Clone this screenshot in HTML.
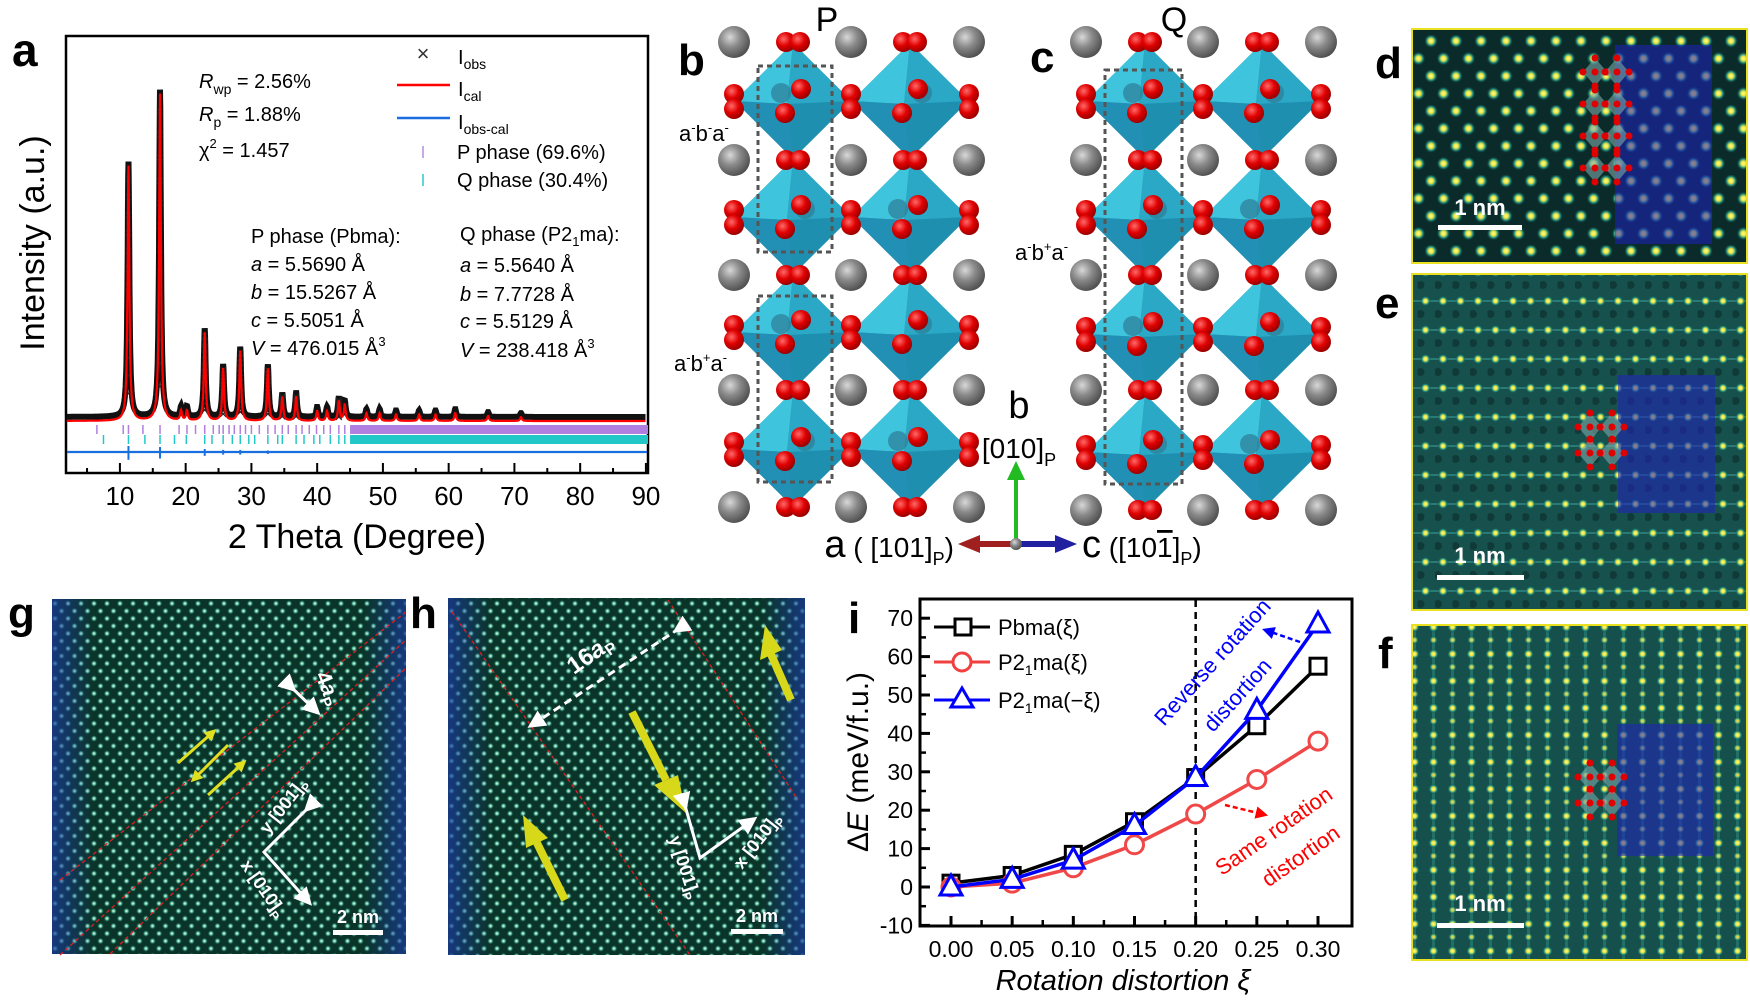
<!DOCTYPE html>
<html><head><meta charset="utf-8">
<style>
html,body{margin:0;padding:0;background:#fff;}
svg{display:block;font-family:"Liberation Sans",sans-serif;}
</style></head>
<body>
<svg id="fig" width="1750" height="1000" viewBox="0 0 1750 1000" xmlns="http://www.w3.org/2000/svg">
<defs>
  <radialGradient id="gGray" cx="0.38" cy="0.35" r="0.7">
    <stop offset="0" stop-color="#d8d8d8"/><stop offset="0.45" stop-color="#8a8a8a"/><stop offset="1" stop-color="#4a4a4a"/>
  </radialGradient>
  <radialGradient id="gRed" cx="0.38" cy="0.35" r="0.7">
    <stop offset="0" stop-color="#ff6a6a"/><stop offset="0.5" stop-color="#e00000"/><stop offset="1" stop-color="#900000"/>
  </radialGradient>
  <radialGradient id="gDot" cx="0.5" cy="0.5" r="0.5">
    <stop offset="0" stop-color="#ffff90"/><stop offset="0.35" stop-color="#e8e040"/><stop offset="0.6" stop-color="#2a9a88"/><stop offset="1" stop-color="#0c3a36" stop-opacity="0"/>
  </radialGradient>
  <radialGradient id="gDot2" cx="0.5" cy="0.5" r="0.5">
    <stop offset="0" stop-color="#e8fff0"/><stop offset="0.3" stop-color="#8ad8b8"/><stop offset="0.65" stop-color="#1a6a5a"/><stop offset="1" stop-color="#0a3028" stop-opacity="0"/>
  </radialGradient>
  <pattern id="patD" width="25" height="35" patternUnits="userSpaceOnUse">
    <rect width="25" height="35" fill="#0b2b2a"/>
    <circle cx="6" cy="6" r="7" fill="url(#gDot)"/><circle cx="18.5" cy="23.5" r="7" fill="url(#gDot)"/>
  </pattern>
  <pattern id="patE" width="17.5" height="29" patternUnits="userSpaceOnUse">
    <rect width="17.5" height="29" fill="#17514e"/>
    <rect y="10" width="17.5" height="2" fill="#2a7a78"/>
    <circle cx="8" cy="11" r="5.5" fill="url(#gDot)"/>
    <circle cx="3" cy="24" r="4" fill="#0b2b28" opacity="0.6"/>
  </pattern>
  <pattern id="patF" width="19" height="27" patternUnits="userSpaceOnUse">
    <rect width="19" height="27" fill="#15504c"/>
    <rect x="7" width="3" height="27" fill="#227068"/>
    <circle cx="8.5" cy="6" r="5.5" fill="url(#gDot)"/>
    <circle cx="8.5" cy="19" r="4.5" fill="url(#gDot)" opacity="0.8"/>
  </pattern>
  <pattern id="patG" width="13" height="15" patternUnits="userSpaceOnUse">
    <rect width="13" height="15" fill="#0b3428"/>
    <circle cx="3" cy="3.5" r="3.6" fill="url(#gDot2)"/><circle cx="9.5" cy="11" r="3.6" fill="url(#gDot2)"/>
  </pattern>
  <linearGradient id="edgeBlue" x1="0" x2="1">
    <stop offset="0" stop-color="#1a3a9a" stop-opacity="0.75"/><stop offset="0.12" stop-color="#1a3a9a" stop-opacity="0"/>
    <stop offset="0.88" stop-color="#1a3a9a" stop-opacity="0"/><stop offset="1" stop-color="#1a3a9a" stop-opacity="0.75"/>
  </linearGradient>
  <marker id="arrW" markerWidth="6" markerHeight="6" refX="3" refY="3" orient="auto"><path d="M0,0 L6,3 L0,6 z" fill="#fff"/></marker>
  <marker id="arrY" markerWidth="4" markerHeight="4" refX="2" refY="2" orient="auto"><path d="M0,0 L4,2 L0,4 z" fill="#e0e020"/></marker>
  <marker id="arrB" markerWidth="5" markerHeight="5" refX="2.5" refY="2.5" orient="auto"><path d="M0,0 L5,2.5 L0,5 z" fill="#0000ff"/></marker>
  <marker id="arrR" markerWidth="5" markerHeight="5" refX="2.5" refY="2.5" orient="auto"><path d="M0,0 L5,2.5 L0,5 z" fill="#ff0000"/></marker>
</defs>

<!-- ================= PANEL A ================= -->
<g id="panelA">
  <text x="12" y="66" font-size="46" font-weight="bold">a</text>
  <rect x="66" y="36" width="582" height="437" fill="none" stroke="#000" stroke-width="2.5"/>
  <g id="aData"></g>
  <g id="aTicks"></g>
  <text x="357" y="548" font-size="34" text-anchor="middle">2 Theta (Degree)</text>
  <text transform="translate(44,243) rotate(-90)" font-size="34" text-anchor="middle">Intensity (a.u.)</text>
  <g font-size="20">
    <text x="199" y="88"><tspan font-style="italic">R</tspan><tspan font-size="14" dy="6">wp</tspan><tspan dy="-6"> = 2.56%</tspan></text>
    <text x="199" y="121"><tspan font-style="italic">R</tspan><tspan font-size="14" dy="6">p</tspan><tspan dy="-6"> = 1.88%</tspan></text>
    <text x="199" y="157">χ<tspan font-size="13" dy="-9">2</tspan><tspan dy="9"> = 1.457</tspan></text>
  </g>
  <g font-size="20">
    <text x="423" y="61" font-size="22" text-anchor="middle" fill="#333">×</text>
    <text x="458" y="64">I<tspan font-size="14" dy="5">obs</tspan></text>
    <line x1="397" y1="85" x2="450" y2="85" stroke="#f00" stroke-width="2.5"/>
    <text x="458" y="96">I<tspan font-size="14" dy="5">cal</tspan></text>
    <line x1="397" y1="118" x2="450" y2="118" stroke="#1a6fe0" stroke-width="2.5"/>
    <text x="458" y="129">I<tspan font-size="14" dy="5">obs-cal</tspan></text>
    <line x1="423" y1="146" x2="423" y2="158" stroke="#b58be0" stroke-width="1.5"/>
    <text x="457" y="159">P phase (69.6%)</text>
    <line x1="423" y1="174" x2="423" y2="186" stroke="#2cc8c8" stroke-width="1.5"/>
    <text x="457" y="187">Q phase (30.4%)</text>
  </g>
  <g font-size="20">
    <text x="251" y="243">P phase (Pbma):</text>
    <text x="251" y="271"><tspan font-style="italic">a</tspan> = 5.5690 Å</text>
    <text x="251" y="299"><tspan font-style="italic">b</tspan> = 15.5267 Å</text>
    <text x="251" y="327"><tspan font-style="italic">c</tspan> = 5.5051 Å</text>
    <text x="251" y="355"><tspan font-style="italic">V</tspan> = 476.015 Å<tspan font-size="13" dy="-9">3</tspan></text>
    <text x="460" y="241">Q phase (P2<tspan font-size="13" dy="5">1</tspan><tspan dy="-5">ma):</tspan></text>
    <text x="460" y="272"><tspan font-style="italic">a</tspan> = 5.5640 Å</text>
    <text x="460" y="301"><tspan font-style="italic">b</tspan> = 7.7728 Å</text>
    <text x="460" y="328"><tspan font-style="italic">c</tspan> = 5.5129 Å</text>
    <text x="460" y="357"><tspan font-style="italic">V</tspan> = 238.418 Å<tspan font-size="13" dy="-9">3</tspan></text>
  </g>
</g>

<!-- ================= PANELS B & C ================= -->
<g id="structB"></g>
<g id="structC"></g>
<g>
  <text x="678" y="75" font-size="44" font-weight="bold">b</text>
  <text x="1030" y="72" font-size="44" font-weight="bold">c</text>
  <text x="827" y="31" font-size="34" text-anchor="middle">P</text>
  <text x="1174" y="31" font-size="34" text-anchor="middle">Q</text>
  <g font-size="22">
    <text x="679" y="141">a<tspan font-size="13" dy="-9">-</tspan><tspan dy="9">b</tspan><tspan font-size="13" dy="-9">-</tspan><tspan dy="9">a</tspan><tspan font-size="13" dy="-9">-</tspan></text>
    <text x="674" y="371">a<tspan font-size="13" dy="-9">-</tspan><tspan dy="9">b</tspan><tspan font-size="13" dy="-9">+</tspan><tspan dy="9">a</tspan><tspan font-size="13" dy="-9">-</tspan></text>
    <text x="1015" y="260">a<tspan font-size="13" dy="-9">-</tspan><tspan dy="9">b</tspan><tspan font-size="13" dy="-9">+</tspan><tspan dy="9">a</tspan><tspan font-size="13" dy="-9">-</tspan></text>
  </g>
  <g>
    <line x1="1016" y1="544" x2="1016" y2="478" stroke="#22bb22" stroke-width="4"/>
    <polygon points="1007,480 1025,480 1016,461" fill="#22bb22"/>
    <line x1="1016" y1="544" x2="978" y2="544" stroke="#a02020" stroke-width="6"/>
    <polygon points="980,535 980,553 958,544" fill="#a02020"/>
    <line x1="1016" y1="544" x2="1056" y2="544" stroke="#2020a0" stroke-width="6"/>
    <polygon points="1055,535 1055,553 1077,544" fill="#2020a0"/>
    <circle cx="1016" cy="544" r="6" fill="url(#gGray)"/>
    <text x="1019" y="418" font-size="38" text-anchor="middle">b</text>
    <text x="1019" y="458" font-size="28" text-anchor="middle">[010]<tspan font-size="18" dy="8">P</tspan></text>
    <text x="954" y="557" font-size="28" text-anchor="end"><tspan font-size="38">a</tspan> ( [101]<tspan font-size="18" dy="8">P</tspan><tspan dy="-8">)</tspan></text>
    <text x="1082" y="557" font-size="28"><tspan font-size="38">c</tspan> ([10<tspan text-decoration="overline">1</tspan>]<tspan font-size="18" dy="8">P</tspan><tspan dy="-8">)</tspan></text>
  </g>
</g>

<!-- ================= PANELS D E F ================= -->
<g>
  <text x="1375" y="78" font-size="44" font-weight="bold">d</text>
  <text x="1375" y="318" font-size="44" font-weight="bold">e</text>
  <text x="1378" y="668" font-size="44" font-weight="bold">f</text>
  <g>
    <rect x="1412" y="29" width="335" height="234" fill="url(#patD)" stroke="#e8e020" stroke-width="2"/>
    <rect x="1615" y="45" width="97" height="199" fill="#2020c0" opacity="0.55"/>
  </g>
  <g>
    <rect x="1412" y="274" width="335" height="336" fill="url(#patE)" stroke="#e8e020" stroke-width="2"/>
    <rect x="1618" y="375" width="97" height="138" fill="#2020c0" opacity="0.55"/>
  </g>
  <g>
    <rect x="1412" y="625" width="335" height="335" fill="url(#patF)" stroke="#e8e020" stroke-width="2"/>
    <rect x="1617" y="724" width="96" height="132" fill="#2020c0" opacity="0.55"/>
  </g>
  <g id="miniOct"></g>
  <g fill="#fff" font-size="22" font-weight="bold">
    <rect x="1438" y="225" width="84" height="5"/><text x="1480" y="215" text-anchor="middle">1 nm</text>
    <rect x="1437" y="575" width="87" height="5"/><text x="1480" y="563" text-anchor="middle">1 nm</text>
    <rect x="1437" y="923" width="87" height="5"/><text x="1480" y="911" text-anchor="middle">1 nm</text>
  </g>
</g>

<!-- ================= PANELS G H ================= -->
<g>
  <text x="8" y="628" font-size="44" font-weight="bold">g</text>
  <text x="410" y="628" font-size="44" font-weight="bold">h</text>
  <g>
    <rect x="52" y="599" width="354" height="355" fill="url(#patG)"/>
    <rect x="52" y="599" width="354" height="355" fill="url(#edgeBlue)"/>
    <g stroke="#e02020" stroke-width="1.3" stroke-dasharray="4,3" fill="none">
      <line x1="60" y1="880" x2="406" y2="612"/>
      <line x1="60" y1="955" x2="406" y2="640"/>
      <line x1="110" y1="954" x2="406" y2="668"/>
    </g>
    <g stroke="#e0e020" stroke-width="3" marker-end="url(#arrY)">
      <line x1="178" y1="763" x2="212" y2="733"/>
      <line x1="228" y1="745" x2="195" y2="778"/>
      <line x1="208" y1="795" x2="242" y2="764"/>
    </g>
    <g stroke="#fff" stroke-width="3" fill="none">
      <line x1="290" y1="686" x2="314" y2="709" marker-start="url(#arrW)" marker-end="url(#arrW)"/>
      <polyline points="310,806 264,852 306,899" marker-start="url(#arrW)" marker-end="url(#arrW)"/>
    </g>
    <text transform="translate(315,675) rotate(68)" font-size="22" font-weight="bold" fill="#fff">4<tspan font-style="italic">a</tspan><tspan font-size="15" dy="5">P</tspan></text>
    <text transform="translate(268,835) rotate(-52)" font-size="18" font-weight="bold" fill="#fff">y [001]<tspan font-size="12" dy="5">P</tspan></text>
    <text transform="translate(240,865) rotate(55)" font-size="18" font-weight="bold" fill="#fff">x [010]<tspan font-size="12" dy="5">P</tspan></text>
    <rect x="333" y="930" width="50" height="5" fill="#fff"/>
    <text x="358" y="923" font-size="18" font-weight="bold" fill="#fff" text-anchor="middle">2 nm</text>
  </g>
  <g>
    <rect x="448" y="598" width="357" height="357" fill="url(#patG)"/>
    <rect x="448" y="598" width="357" height="357" fill="url(#edgeBlue)"/>
    <g stroke="#e02020" stroke-width="1.3" stroke-dasharray="4,3" fill="none">
      <line x1="452" y1="612" x2="690" y2="955"/>
      <line x1="668" y1="600" x2="798" y2="800"/>
    </g>
    <line x1="680" y1="628" x2="535" y2="723" stroke="#fff" stroke-width="3" stroke-dasharray="8,5" marker-start="url(#arrW)" marker-end="url(#arrW)"/>
    <text transform="translate(574,675) rotate(-35)" font-size="24" font-weight="bold" fill="#fff">16<tspan font-style="italic">a</tspan><tspan font-size="16" dy="5">P</tspan></text>
    <g stroke="#d8d81a" stroke-width="8">
      <line x1="791" y1="700" x2="770" y2="652"/><polygon points="760,660 782,650 765,625" fill="#d8d81a" stroke="none"/>
      <line x1="632" y1="712" x2="666" y2="780"/><polygon points="654,785 678,775 686,813" fill="#d8d81a" stroke="none"/>
      <line x1="565" y1="900" x2="537" y2="843"/><polygon points="526,848 548,838 523,815" fill="#d8d81a" stroke="none"/>
    </g>
    <polyline points="684,802 700,858 750,822" stroke="#fff" stroke-width="3" fill="none" marker-start="url(#arrW)" marker-end="url(#arrW)"/>
    <text transform="translate(669,838) rotate(72)" font-size="18" font-weight="bold" fill="#fff">y [001]<tspan font-size="12" dy="5">P</tspan></text>
    <text transform="translate(742,870) rotate(-52)" font-size="18" font-weight="bold" fill="#fff">x [010]<tspan font-size="12" dy="5">P</tspan></text>
    <rect x="731" y="929" width="52" height="5" fill="#fff"/>
    <text x="757" y="922" font-size="18" font-weight="bold" fill="#fff" text-anchor="middle">2 nm</text>
  </g>
</g>

<!-- ================= PANEL I ================= -->
<g id="panelI">
  <text x="848" y="633" font-size="44" font-weight="bold">i</text>
  <rect x="920" y="599" width="432" height="327" fill="none" stroke="#000" stroke-width="3"/>
  <g id="iAxes"></g>
  <g id="iData"></g>
  <text transform="translate(868,762) rotate(-90)" font-size="30" text-anchor="middle">Δ<tspan font-style="italic">E</tspan> (meV/f.u.)</text>
  <text x="1123" y="990" font-size="29" font-style="italic" text-anchor="middle">Rotation distortion ξ</text>
  <g font-size="22">
    <g>
      <line x1="934" y1="627" x2="990" y2="627" stroke="#000" stroke-width="3"/>
      <rect x="955" y="619" width="16" height="16" fill="#fff" stroke="#000" stroke-width="3"/>
      <text x="998" y="635">Pbma(ξ)</text>
    </g>
    <g>
      <line x1="934" y1="662" x2="990" y2="662" stroke="#f04040" stroke-width="3"/>
      <circle cx="962" cy="662" r="9" fill="#fff" stroke="#f04040" stroke-width="3"/>
      <text x="998" y="670">P2<tspan font-size="14" dy="5">1</tspan><tspan dy="-5">ma(ξ)</tspan></text>
    </g>
    <g>
      <line x1="934" y1="700" x2="990" y2="700" stroke="#0000ff" stroke-width="3"/>
      <polygon points="962,688 973,707 951,707" fill="#fff" stroke="#0000ff" stroke-width="3"/>
      <text x="998" y="708">P2<tspan font-size="14" dy="5">1</tspan><tspan dy="-5">ma(−ξ)</tspan></text>
    </g>
  </g>
  <g font-size="22" fill="#0000ff">
    <text transform="translate(1218,667) rotate(-48)" text-anchor="middle">Reverse rotation</text>
    <text transform="translate(1243,700) rotate(-48)" text-anchor="middle">distortion</text>
    <line x1="1300" y1="642" x2="1268" y2="631" stroke="#0000ff" stroke-width="2.5" stroke-dasharray="5,3" marker-end="url(#arrB)"/>
  </g>
  <g font-size="22" fill="#ff0000">
    <text transform="translate(1278,837) rotate(-35)" text-anchor="middle">Same rotation</text>
    <text transform="translate(1305,862) rotate(-35)" text-anchor="middle">distortion</text>
    <line x1="1225" y1="805" x2="1262" y2="814" stroke="#ff0000" stroke-width="2.5" stroke-dasharray="5,3" marker-end="url(#arrR)"/>
  </g>
</g>

<script>
// ---------- Panel a data ----------
const peakTwoTheta = [11.3, 16.1, 19.3, 20.2, 22.9, 25.7, 28.3, 32.5, 34.7, 36.8, 40.0, 41.5, 43.3, 44.2, 47.5, 49.5, 52.0, 55.5, 58.0, 61.0, 66.0, 71.0];
const peakIntensity = [78, 100, 3, 3, 27, 16, 21.4, 16, 7.3, 7.3, 3, 3, 6.1, 4.9, 2.4, 2.4, 2, 2, 2, 2.4, 1.5, 1.2];
const pPhaseTicks = [6.5, 10.5, 11.3, 13.5, 16.1, 19, 20.2, 21.5, 22.9, 24.2, 25.1, 25.7, 26.6, 27.4, 28.3, 29.1, 30, 31.2, 32.5, 33.6, 34.7, 35.6, 36.8, 37.7, 38.8, 39.9, 41, 42, 43.3, 44.2];
const qPhaseTicks = [7.5, 11.3, 13.8, 16.1, 18.3, 20.1, 22.9, 24.0, 25.7, 27.1, 28.3, 29.6, 30.5, 32.5, 34.0, 34.7, 36.8, 38.0, 39.5, 40.4, 42.0, 43.3, 44.2];
const diffSpikes = [11.3, 16.1, 22.9, 25.7, 28.3, 32.5];
const diffSpikeAmp = [6, 5, 3, 2, 2, 1.5];
const xTickLabels = [10, 20, 30, 40, 50, 60, 70, 80, 90];

const NS = "http://www.w3.org/2000/svg";
function mk(tag, attrs, parent) {
  const el = document.createElementNS(NS, tag);
  for (const k in attrs) el.setAttribute(k, attrs[k]);
  parent.appendChild(el);
  return el;
}
const ax = d => 66 + (d - 1.8) * 6.575;
const ay = I => 420 - I * 3.27;
function profile(t) {
  let s = 0;
  for (let i = 0; i < peakTwoTheta.length; i++) {
    const g = 0.16, dx = t - peakTwoTheta[i];
    s += peakIntensity[i] * g * g / (dx * dx + g * g);
  }
  return s;
}
(function drawA() {
  const g = document.getElementById('aData');
  let pts = [];
  for (let t = 1.9; t <= 89.95; t += 0.04) pts.push(ax(t).toFixed(1) + ',' + ay(profile(t)).toFixed(1));
  const obs = mk('polyline', {points: pts.join(' '), fill: 'none', stroke: '#111', 'stroke-width': 6, transform: 'translate(0,-3)'}, g);
  
  
  for (let i = 0; i < peakTwoTheta.length; i++) {
    if (peakIntensity[i] < 5) continue;
    for (let f = 0.1; f <= 1.0001; f += 0.07) {
      const c = mk('text', {x: ax(peakTwoTheta[i]), y: ay(peakIntensity[i] * f) + 4, 'font-size': 15, 'text-anchor': 'middle', fill: '#222'}, g);
      c.textContent = '×';
      
      
    }
  }
  const cal = mk('polyline', {points: pts.join(' '), fill: 'none', stroke: '#f00', 'stroke-width': 2.2, transform: 'translate(0,1)'}, g);
  
  
  const pb = mk('rect', {x: ax(45), y: 425, width: 648 - ax(45), height: 9, fill: '#b07fe0'}, g);
  
  
  const qb = mk('rect', {x: ax(45), y: 435, width: 648 - ax(45), height: 9, fill: '#22c8c8'}, g);
  
  
  pPhaseTicks.forEach(t => {
    const l = mk('line', {x1: ax(t), x2: ax(t), y1: 425, y2: 434, stroke: '#b07fe0', 'stroke-width': 1.5}, g);
    
    
  });
  qPhaseTicks.forEach(t => {
    const l = mk('line', {x1: ax(t), x2: ax(t), y1: 435, y2: 444, stroke: '#22c8c8', 'stroke-width': 1.5}, g);
    
    
  });
  const dl = mk('line', {x1: 67, x2: 647, y1: 452, y2: 452, stroke: '#1a6fe0', 'stroke-width': 2.2}, g);
  
  
  diffSpikes.forEach((t, i) => {
    const l = mk('line', {x1: ax(t), x2: ax(t), y1: 452 - diffSpikeAmp[i], y2: 452 + diffSpikeAmp[i] * 1.3, stroke: '#1a6fe0', 'stroke-width': 2}, g);
    
    
  });
  const tg = document.getElementById('aTicks');
  for (let v = 5; v <= 90; v += 5) {
    const major = v % 10 === 0;
    const l = mk('line', {x1: ax(v), x2: ax(v), y1: 473, y2: major ? 463 : 468, stroke: '#000', 'stroke-width': 2}, tg);
    
    
  }
  xTickLabels.forEach(v => {
    const t = mk('text', {x: ax(v), y: 505, 'font-size': 26, 'text-anchor': 'middle'}, tg);
    t.textContent = v;
    
    
  });
})();

// ---------- Crystal structures ----------
function drawStruct(gid, grayX, grayY, octX, octY, box) {
  const g = document.getElementById(gid);
  const hw = (grayX[1] - grayX[0]) / 2;
  octY.forEach((cy, ri) => {
    const hh = 58;
    octX.forEach((cx, ci) => {
      const o = mk('g', {}, g);
      
      
      mk('polygon', {points: `${cx},${cy - hh} ${cx - hw},${cy} ${cx},${cy + hh} ${cx + hw},${cy}`, fill: '#1f8fb0'}, o);
      mk('polygon', {points: `${cx},${cy - hh} ${cx - hw},${cy} ${cx - 6},${cy + 3}`, fill: '#3ec4dc'}, o);
      mk('polygon', {points: `${cx},${cy - hh} ${cx + hw},${cy} ${cx - 6},${cy + 3}`, fill: '#2aa8c6'}, o);
      mk('polygon', {points: `${cx - hw},${cy} ${cx},${cy + hh} ${cx - 6},${cy + 3}`, fill: '#2290b4'}, o);
      const s = ((ri + ci) % 2 === 0) ? 1 : -1;
      mk('circle', {cx: cx - 12 * s, cy: cy - 8, r: 10, fill: '#2f7d95', opacity: 0.7}, o);
      mk('circle', {cx: cx + 8 * s, cy: cy - 12 * s, r: 10, fill: 'url(#gRed)'}, o);
      mk('circle', {cx: cx - 8 * s, cy: cy + 12 * s, r: 10, fill: 'url(#gRed)'}, o);
    });
    grayX.forEach(x => {
      const a = mk('circle', {cx: x, cy: cy - 7, r: 10, fill: 'url(#gRed)'}, g);
      
      
      const b = mk('circle', {cx: x, cy: cy + 8, r: 10, fill: 'url(#gRed)'}, g);
      
      
    });
  });
  grayY.forEach(y => {
    octX.forEach(x => {
      const a = mk('circle', {cx: x - 7, cy: y, r: 10, fill: 'url(#gRed)'}, g);
      
      
      const b = mk('circle', {cx: x + 7, cy: y, r: 10, fill: 'url(#gRed)'}, g);
      
      
    });
    grayX.forEach(x => {
      const c = mk('circle', {cx: x, cy: y, r: 16, fill: 'url(#gGray)'}, g);
      
      
    });
  });
  box.forEach(bx => {
    const r = mk('rect', {x: bx[0], y: bx[1], width: bx[2], height: bx[3], fill: 'none', stroke: '#555', 'stroke-width': 3, 'stroke-dasharray': '5,4'}, g);
    
    
  });
}
drawStruct('structB', [734, 851, 969], [42, 160, 275, 390, 507], [793, 910], [101, 217, 332, 449], [[758, 66, 74, 186], [758, 296, 74, 186]]);
drawStruct('structC', [1086, 1203, 1321], [42, 160, 275, 390, 510], [1145, 1262], [101, 217, 334, 452], [[1105, 70, 77, 414]]);

// mini octahedra overlays in d/e/f
(function () {
  const g = document.getElementById('miniOct');
  const sets = [[1605, 60, 4, 1], [1600, 415, 2, 2], [1600, 765, 2, 2]];
  sets.forEach(s => {
    for (let r = 0; r < s[2]; r++) for (let c = 0; c < 2; c++) {
      const cx = s[0] + c * 22 - 10, cy = s[1] + r * (s[3] === 1 ? 32 : 26) + 12;
      const o = mk('polygon', {points: `${cx},${cy - 14} ${cx - 12},${cy} ${cx},${cy + 14} ${cx + 12},${cy}`, fill: '#7aa8a8', opacity: 0.6}, g);
      
      
      [[0, -14], [-12, 0], [12, 0], [0, 14], [0, 0]].forEach(p => {
        const a = mk('circle', {cx: cx + p[0], cy: cy + p[1], r: 3.5, fill: '#e00000'}, g);
        
        
      });
    }
  });
})();

// ---------- Panel i data ----------
const xiValues = [0.00, 0.05, 0.10, 0.15, 0.20, 0.25, 0.30];
const pbmaEnergy = [1, 3, 8.5, 17, 28.5, 42, 57.5];
const p21maEnergy = [0, 1, 5, 11, 19, 28, 38];
const p21maNegEnergy = [0, 2, 7, 16, 28.5, 46, 68.5];
const yTickValues = [-10, 0, 10, 20, 30, 40, 50, 60, 70];
const xTickValues = ['0.00', '0.05', '0.10', '0.15', '0.20', '0.25', '0.30'];

const ix = v => 951 + (v / 0.30) * 367;
const iy = v => 887 - v * 3.84;
(function drawI() {
  const ag = document.getElementById('iAxes');
  yTickValues.forEach(v => {
    const l = mk('line', {x1: 920, x2: 930, y1: iy(v), y2: iy(v), stroke: '#000', 'stroke-width': 3}, ag);
    
    
    const m = mk('line', {x1: 920, x2: 926, y1: iy(v + 5), y2: iy(v + 5), stroke: '#000', 'stroke-width': 2.5}, ag);
    
    
    const t = mk('text', {x: 913, y: iy(v) + 8, 'font-size': 23, 'text-anchor': 'end'}, ag);
    t.textContent = v;
    
    
  });
  xTickValues.forEach(s => {
    const v = parseFloat(s);
    const l = mk('line', {x1: ix(v), x2: ix(v), y1: 926, y2: 916, stroke: '#000', 'stroke-width': 3}, ag);
    
    
    if (v < 0.3) {
      const m = mk('line', {x1: ix(v + 0.025), x2: ix(v + 0.025), y1: 926, y2: 920, stroke: '#000', 'stroke-width': 2.5}, ag);
      
      
    }
    const t = mk('text', {x: ix(v), y: 957, 'font-size': 23, 'text-anchor': 'middle'}, ag);
    t.textContent = s;
    
    
  });
  const dl = mk('line', {x1: ix(0.2), x2: ix(0.2), y1: 600, y2: 925, stroke: '#000', 'stroke-width': 2.5, 'stroke-dasharray': '7,5'}, ag);
  
  

  const dg = document.getElementById('iData');
  function series(vals, color, shape, name) {
    const sg = mk('g', {}, dg);
    
    
    const pts = vals.map((v, i) => ix(xiValues[i]) + ',' + iy(v)).join(' ');
    mk('polyline', {points: pts, fill: 'none', stroke: color, 'stroke-width': 3.5}, sg);
    vals.forEach((v, i) => {
      const x = ix(xiValues[i]), y = iy(v);
      let m;
      if (shape === 'square') m = mk('rect', {x: x - 8, y: y - 8, width: 16, height: 16, fill: '#fff', stroke: color, 'stroke-width': 3}, sg);
      else if (shape === 'circle') m = mk('circle', {cx: x, cy: y, r: 9, fill: '#fff', stroke: color, 'stroke-width': 3}, sg);
      else m = mk('polygon', {points: `${x},${y - 12} ${x + 11},${y + 8} ${x - 11},${y + 8}`, fill: '#fff', stroke: color, 'stroke-width': 3}, sg);
      
      
    });
  }
  series(pbmaEnergy, '#000', 'square', 'pbma-series');
  series(p21maEnergy, '#f04848', 'circle', 'p21ma-series');
  series(p21maNegEnergy, '#0000ff', 'triangle', 'p21ma-neg-series');
})();
</script>
</svg>
</body></html>
